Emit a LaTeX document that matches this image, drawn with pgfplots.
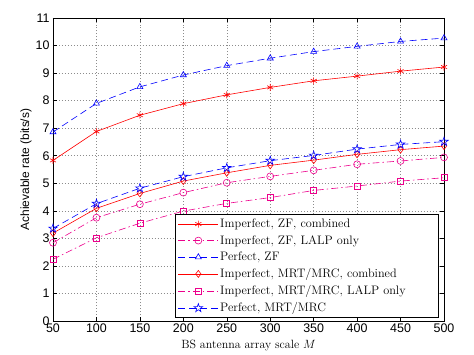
\documentclass[border=0pt]{standalone}
\usepackage{pgfplots}
\pgfplotsset{compat=1.18}
\usepackage{fontspec}
\newfontfamily\helv{Liberation Sans}
\usetikzlibrary{plotmarks}
\pgfdeclareplotmark{pentagram}{%
  \pgfpathmoveto{\pgfqpointpolar{90}{\pgfplotmarksize}}%
  \pgfpathlineto{\pgfqpointpolar{126}{0.382\pgfplotmarksize}}%
  \pgfpathlineto{\pgfqpointpolar{162}{\pgfplotmarksize}}%
  \pgfpathlineto{\pgfqpointpolar{198}{0.382\pgfplotmarksize}}%
  \pgfpathlineto{\pgfqpointpolar{234}{\pgfplotmarksize}}%
  \pgfpathlineto{\pgfqpointpolar{270}{0.382\pgfplotmarksize}}%
  \pgfpathlineto{\pgfqpointpolar{306}{\pgfplotmarksize}}%
  \pgfpathlineto{\pgfqpointpolar{342}{0.382\pgfplotmarksize}}%
  \pgfpathlineto{\pgfqpointpolar{18}{\pgfplotmarksize}}%
  \pgfpathlineto{\pgfqpointpolar{54}{0.382\pgfplotmarksize}}%
  \pgfpathclose\pgfusepathqstroke}
\begin{document}
\begin{tikzpicture}
\begin{axis}[
  scale only axis, width=391bp, height=303bp,
  xmin=50, xmax=500, ymin=0, ymax=11,
  xtick={50,100,...,500}, ytick={0,1,...,11},
  tick align=inside,
  grid=major, grid style={dash pattern=on 0.6pt off 2.4pt, gray!90, line width=0.5pt},
  axis line style={line width=0.8pt},
  tick style={black, line width=0.5pt},
  /pgf/number format/assume math mode=true,
  ticklabel style={font=\helv\fontsize{12.5}{14}\selectfont},
  xticklabel style={yshift=1pt},
  xlabel={\fontsize{12}{14}\selectfont BS antenna array scale $M$},
  ylabel={\helv\fontsize{12}{14}\selectfont Achievable rate (bits/s)},
  xlabel style={at={([yshift=-27bp]axis description cs:0.5,0)}, anchor=base},
  ylabel style={at={([xshift=-27bp]axis description cs:0,0.5)}, anchor=center},
  legend cell align=left,
  legend style={at={(rel axis cs:0.988,0.01)}, anchor=south east,
    font=\fontsize{12.3}{15.5}\selectfont, draw=black, line width=1pt,
    inner xsep=3pt, inner ysep=2.5pt, row sep=3.2pt,
    nodes={line width=0.6pt, inner sep=1.6pt, text width=214bp, align=left}},
  legend image code/.code={\draw[mark repeat=2,mark phase=2,#1] plot coordinates {(0bp,0bp)(20bp,0bp)(40bp,0bp)};},
  every axis plot/.append style={line width=0.6pt, mark size=3.5pt, mark options={solid}},
]
\coordinate (bl) at (rel axis cs:0,0);
\coordinate (tr) at (rel axis cs:1,1);
\addplot[red, mark=asterisk] coordinates {(50,5.83)(100,6.88)(150,7.47)(200,7.89)(250,8.21)(300,8.48)(350,8.72)(400,8.89)(450,9.07)(500,9.22)};
\addlegendentry{Imperfect, ZF, combined}
\addplot[magenta, mark=o, dash pattern=on 7pt off 3pt on 1.5pt off 3pt] coordinates {(50,2.84)(100,3.75)(150,4.24)(200,4.66)(250,5.02)(300,5.25)(350,5.47)(400,5.69)(450,5.81)(500,5.94)};
\addlegendentry{Imperfect, ZF, LALP only}
\addplot[blue, mark=triangle, dash pattern=on 7pt off 4pt] coordinates {(50,6.86)(100,7.90)(150,8.50)(200,8.93)(250,9.27)(300,9.54)(350,9.78)(400,9.97)(450,10.15)(500,10.27)};
\addlegendentry{Perfect, ZF}
\addplot[red, mark=diamond] coordinates {(50,3.19)(100,4.09)(150,4.63)(200,5.08)(250,5.38)(300,5.65)(350,5.84)(400,6.05)(450,6.22)(500,6.35)};
\addlegendentry{Imperfect, MRT/MRC, combined}
\addplot[magenta, mark=square, mark size=3pt, dash pattern=on 7pt off 3pt on 1.5pt off 3pt] coordinates {(50,2.24)(100,3.02)(150,3.55)(200,3.99)(250,4.27)(300,4.48)(350,4.74)(400,4.90)(450,5.08)(500,5.20)};
\addlegendentry{Imperfect, MRT/MRC, LALP only}
\addplot[blue, mark=pentagram, mark size=4.5pt, dash pattern=on 7pt off 4pt] coordinates {(50,3.36)(100,4.26)(150,4.82)(200,5.24)(250,5.56)(300,5.82)(350,6.01)(400,6.24)(450,6.41)(500,6.51)};
\addlegendentry{Perfect, MRT/MRC}
\end{axis}
\path (bl) ++(-53bp,-34bp);
\path (tr) ++(30bp,18bp);
\end{tikzpicture}
\end{document}
